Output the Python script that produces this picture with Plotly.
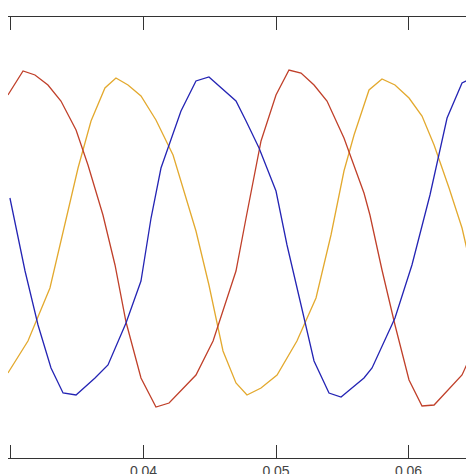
import plotly.graph_objects as go

red_t = [0.02977,0.03091,0.03181,0.03279,0.03377,0.03491,0.03581,0.03694,0.03785,0.03868,0.03981,0.04094,0.04193,0.04396,0.04525,0.04698,0.04774,0.04887,0.05000,0.05098,0.05189,0.05287,0.05385,0.05513,0.05664,0.05709,0.05800,0.05898,0.06004,0.06102,0.06193,0.06404,0.06555]
red_v = [143,167,163,153,137,108,73,23,-27,-84,-140,-169,-165,-137,-103,-33,20,97,143,168,165,153,137,100,45,23,-32,-87,-142,-168,-167,-137,-93]

blue_t = [0.02992,0.03106,0.03204,0.03302,0.03393,0.03491,0.03634,0.03732,0.03868,0.03981,0.04057,0.04132,0.04283,0.04396,0.04494,0.04600,0.04698,0.04774,0.04872,0.05000,0.05083,0.05189,0.05287,0.05400,0.05491,0.05664,0.05725,0.05898,0.06026,0.06162,0.06291,0.06404,0.06495,0.06555]
blue_v = [40,-33,-87,-130,-155,-157,-140,-127,-85,-43,20,70,127,157,161,148,137,117,90,47,-7,-67,-123,-155,-159,-140,-130,-80,-27,43,120,155,161,156]

yellow_t = [0.02977,0.03128,0.03294,0.03408,0.03506,0.03604,0.03709,0.03792,0.03883,0.03981,0.04094,0.04223,0.04396,0.04494,0.04600,0.04698,0.04781,0.04887,0.05008,0.05158,0.05302,0.05415,0.05513,0.05589,0.05664,0.05702,0.05800,0.05898,0.06004,0.06102,0.06193,0.06306,0.06404,0.06479,0.06555]
yellow_v = [-135,-103,-50,13,70,117,150,160,153,142,118,83,7,-47,-113,-145,-157,-150,-137,-103,-60,3,67,103,132,148,159,153,140,122,93,50,10,-33,-77]

tick_vals = [0.03, 0.04, 0.05, 0.06]
tick_text = ["0.03", "0.04", "0.05", "0.06"]

fig = go.Figure()
for t, v, c in [(yellow_t, yellow_v, "#e3a92e"), (red_t, red_v, "#c0402a"), (blue_t, blue_v, "#2424b4")]:
    fig.add_trace(go.Scatter(x=t, y=v, mode="lines", line=dict(color=c, width=1.3),
                             showlegend=False, hoverinfo="skip"))

fig.update_layout(
    width=474, height=474,
    margin=dict(l=0, r=0, t=9, b=24, pad=0),
    paper_bgcolor="white", plot_bgcolor="white",
    xaxis=dict(range=[0.029774, 0.065547], tickvals=tick_vals, ticktext=tick_text,
               automargin=False,
               ticks="inside", ticklen=13, tickcolor="#333", tickwidth=1,
               showline=True, linecolor="#333", linewidth=1, mirror="ticks",
               showgrid=False, zeroline=False,
               tickfont=dict(family="Liberation Sans, Arial", size=14, color="#444")),
    yaxis=dict(range=[-220, 221], showticklabels=False, showgrid=False, automargin=False,
               zeroline=False, showline=False, ticks=""),
)
fig.write_html("out.html")
